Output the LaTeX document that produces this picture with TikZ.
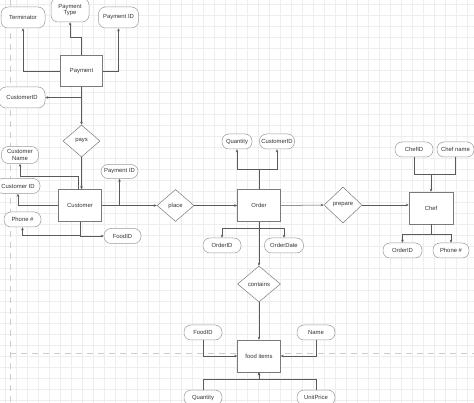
\documentclass[tikz,border=0pt]{standalone}
\usepackage{fontspec}
\setmainfont{Liberation Sans}
\usetikzlibrary{shapes.geometric,arrows.meta}
\definecolor{gridc}{HTML}{EEEEEE}
\definecolor{dashc}{HTML}{CCCCCC}
\definecolor{boxc}{HTML}{7A7A7A}
\definecolor{pillc}{HTML}{9A9A9A}
\definecolor{linec}{HTML}{5A5A5A}
\definecolor{txtc}{HTML}{333333}
\tikzset{
  every node/.style={font=\fontsize{5.9}{6.5}\selectfont, text=txtc, inner sep=0pt, align=center},
  entity/.style={draw=boxc, fill=white, line width=0.5pt, minimum width=43pt, minimum height=32pt},
  attr/.style={draw=pillc, fill=white, line width=0.5pt, rounded corners=7pt, minimum width=38pt, minimum height=15pt},
  rel/.style={draw=boxc, fill=white, line width=0.5pt, diamond, aspect=1.15, minimum width=37pt, minimum height=32pt},
  conn/.style={draw=linec, line width=0.5pt, -{Stealth[length=3pt,width=2.6pt]}},
  plain/.style={draw=linec, line width=0.5pt},
  guide/.style={draw=dashc, line width=0.9pt, dash pattern=on 6pt off 5pt}
}
\begin{document}
\begin{tikzpicture}[x=1pt,y=-1pt]
\useasboundingbox (0,0) rectangle (474,403);
\clip (0,0) rectangle (474,403);
\fill[white] (0,0) rectangle (474,403);
% grid
\foreach \x in {5,16,...,474} \draw[gridc, line width=0.4pt] (\x,0) -- (\x,403);
\foreach \y in {4,15,...,403} \draw[gridc, line width=0.4pt] (0,\y) -- (474,\y);
\draw[guide] (10,0) -- (10,403);
\draw[guide] (10,353) -- (474,353);

% Payment cluster
\node[entity, minimum width=42pt, minimum height=31pt] (payment) at (81.5,71) {Payment};
\node[attr, minimum width=44pt, minimum height=21pt] (term) at (23,17.5) {Terminator};
\node[attr, minimum width=38pt, minimum height=24pt] (ptype) at (70,10) {Payment\\Type};
\node[attr, minimum width=40pt, minimum height=21pt] (payid) at (118.5,17.5) {Payment ID};
\node[attr, minimum width=46pt, minimum height=21pt] (custid1) at (22,97.5) {CustomerID};
\node[rel] (pays) at (81.5,141) {pays};

% Customer cluster
\node[entity] (customer) at (80,205.5) {Customer};
\node[attr, minimum width=37pt, minimum height=17pt] (cname) at (20,155) {Customer\\Name};
\node[attr, minimum width=44pt, minimum height=15pt] (custid2) at (18,186) {Customer ID};
\node[attr, minimum width=37pt, minimum height=15pt] (phone1) at (22.5,219.5) {Phone \#};
\node[attr, minimum width=37pt, minimum height=14pt] (payid2) at (119.5,171.5) {Payment ID};
\node[attr, minimum width=37pt, minimum height=15pt] (foodid1) at (122.5,236) {FoodID};
\node[rel] (place) at (175.5,205.5) {place};

% Order cluster
\node[entity] (order) at (259,205.5) {Order};
\node[attr, minimum width=30pt, minimum height=15pt] (qty1) at (237,141.5) {Quantity};
\node[attr, minimum width=35pt, minimum height=15pt] (custid3) at (277,141.5) {CustomerID};
\node[attr, minimum width=38pt, minimum height=15pt] (orderid1) at (222,245.5) {OrderID};
\node[attr, minimum width=39pt, minimum height=15pt] (orderdate) at (284,245.5) {OrderDate};
\node[rel, minimum width=43pt, minimum height=36pt] (contains) at (259,284) {contains};

% Food items cluster
\node[entity] (food) at (259,356) {food items};
\node[attr] (foodid2) at (203,332.5) {FoodID};
\node[attr] (name) at (316,332.5) {Name};
\node[attr] (qty2) at (203,397.5) {Quantity};
\node[attr] (unit) at (316,397.5) {UnitPrice};

% Chef cluster
\node[rel, minimum width=38pt, minimum height=36pt] (prepare) at (343,205) {prepare};
\node[entity, minimum width=44pt] (chef) at (431,208) {Chef};
\node[attr] (chefid) at (414,149.5) {ChefID};
\node[attr, minimum width=37pt] (chefname) at (455.5,149.5) {Chef name};
\node[attr, minimum width=39pt] (orderid2) at (402.5,250.5) {OrderID};
\node[attr, minimum width=36pt] (phone2) at (451,250.5) {Phone \#};
\coordinate (cj) at (431,174);

% Payment connectors
\draw[conn] (payment.west) -| (term.south);
\draw[conn] (payment.north) -- ++(0,-18) -| (ptype.south);
\draw[conn] (payment.east) -| (payid.south);
\draw[conn] (payment.south) |- (custid1.east);
\draw[conn] (payment.south) -- (pays.north);

% Customer connectors
\draw[conn] (pays.south) -- (pays.south |- customer.north);
\draw[conn] ([xshift=-1.5pt]customer.north) -- ++(0,-13) -| (cname.south);
\draw[conn] (customer.west) -| (custid2.south);
\draw[conn] (customer.east) -| (payid2.south);
\draw[conn] (customer.south) -- ++(0,14) -| (phone1.south);
\draw[conn] (customer.south) |- (foodid1.west);
\draw[conn] (customer.east) -- (place.west);
\draw[conn] (place.east) -- (order.west);

% Order connectors
\draw[conn] (order.north) -- ++(0,-20) -| (qty1.south);
\draw[conn] (order.north) -- ++(0,-20) -| (custid3.south);
\draw[conn] (order.south) -- ++(0,7) -| (orderid1.north);
\draw[conn] (order.south) -- ++(0,7) -| (orderdate.north);
\draw[conn] (order.south) -- (contains.north);
\draw[conn] (contains.south) -- (food.north);
\draw[conn] (order.east) -- (prepare.west);

% Food connectors
\draw[conn] (foodid2.south) |- (food.west);
\draw[conn] (name.south) |- (food.east);
\draw[conn] (qty2.north) -- ++(0,-11) -| (food.south);
\draw[conn] (unit.north) -- ++(0,-11) -| (food.south);

% Chef connectors
\draw[conn] (prepare.east) -- (prepare.east -| chef.west);
\draw[plain] (chefid.south) |- (cj);
\draw[plain] (chefname.south) |- (cj);
\draw[conn] (cj) -- (chef.north);
\draw[conn] (chef.south) -- ++(0,10) -| (orderid2.north);
\draw[conn] (chef.south) -- ++(0,10) -| (phone2.north);
\end{tikzpicture}
\end{document}
